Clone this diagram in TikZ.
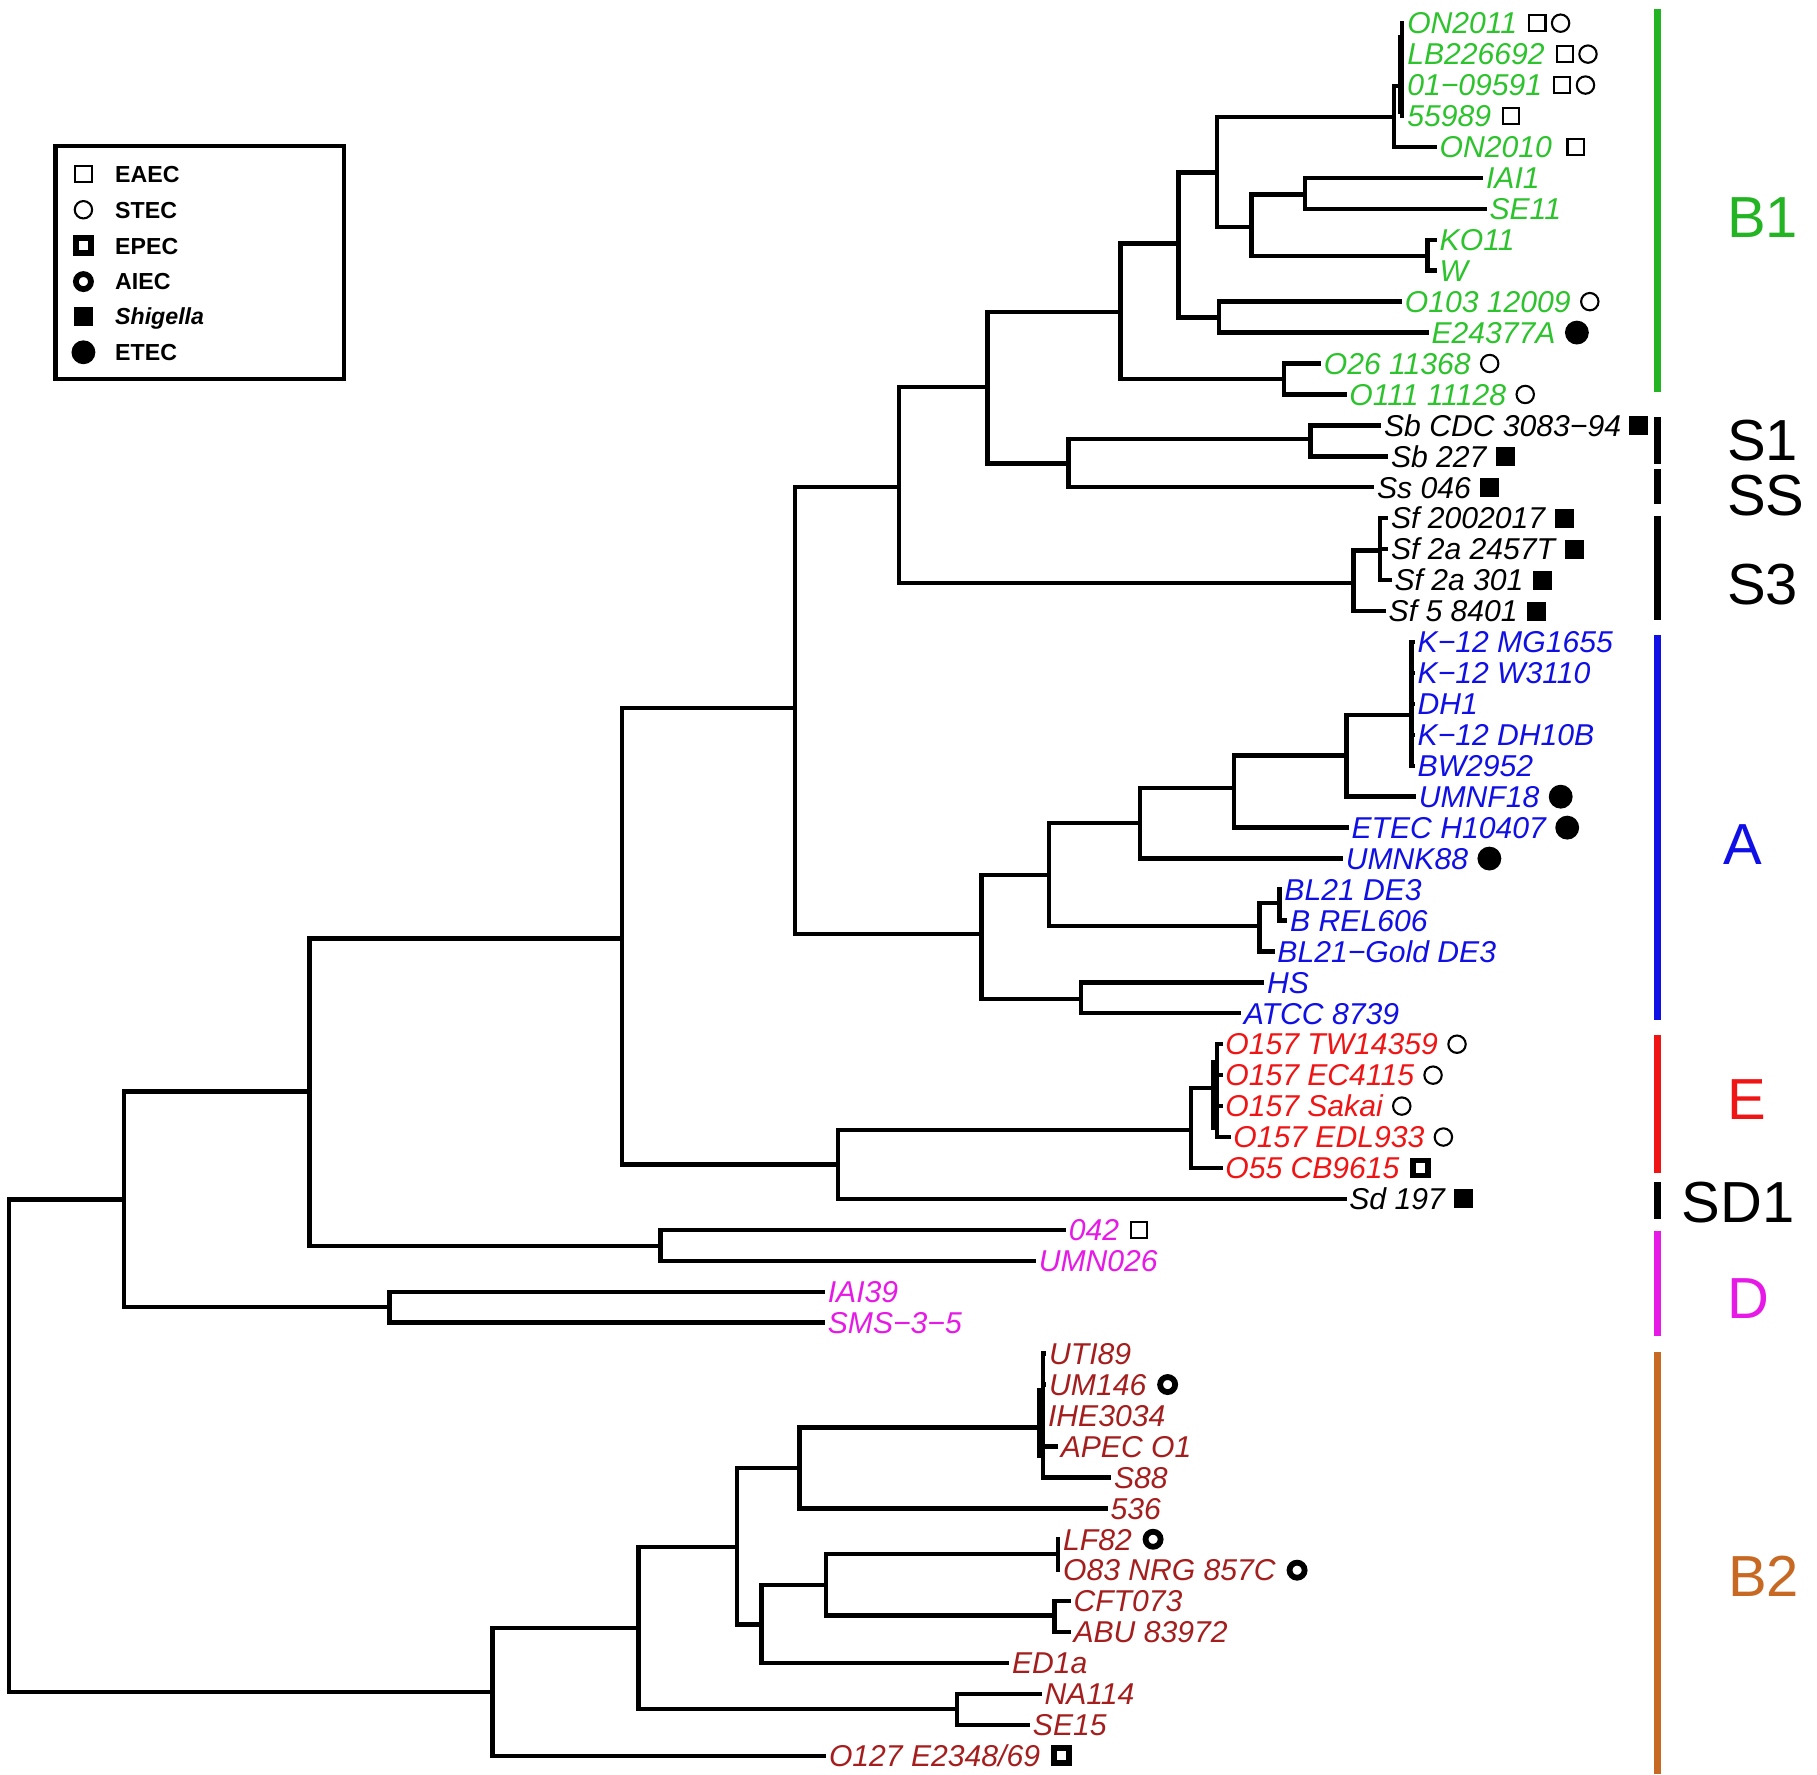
\documentclass[tikz,border=0pt]{standalone}
\usepackage{fontspec}
\setmainfont{Liberation Sans}
\usetikzlibrary{calc}
\definecolor{cB1}{RGB}{34,180,34}
\definecolor{cB1t}{RGB}{45,195,45}
\definecolor{cA}{RGB}{15,15,230}
\definecolor{cE}{RGB}{240,20,20}
\definecolor{cD}{RGB}{230,25,230}
\definecolor{cB2}{RGB}{165,30,30}
\definecolor{cB2bar}{RGB}{200,105,35}
\tikzset{
  br/.style={line width=1.9pt},
  thick cluster/.style={line width=2.8pt},
  cbar/.style={line width=3pt},
  leaf/.style={anchor=west, inner sep=0pt, inner xsep=1pt, font=\fontsize{13}{13}\selectfont\itshape, text height=9.3pt, text depth=0pt},
  big/.style={anchor=west, inner sep=0pt, font=\fontsize{25}{25}\selectfont, text height=18pt, text depth=0pt},
  eaec/.style={rectangle, draw, line width=0.9pt, minimum size=7pt, inner sep=0pt},
  stec/.style={circle, draw, line width=0.9pt, minimum size=7.5pt, inner sep=0pt},
  epec/.style={rectangle, draw, line width=2.5pt, minimum size=6.5pt, inner sep=0pt},
  aiec/.style={circle, draw, line width=2.5pt, minimum size=6.5pt, inner sep=0pt},
  shig/.style={rectangle, fill=black, minimum size=8.2pt, inner sep=0pt},
  etec/.style={circle, fill=black, minimum size=10.3pt, inner sep=0pt},
  legtxt/.style={anchor=west, inner sep=0pt, font=\fontsize{10}{10}\selectfont\bfseries, text height=7.2pt, text depth=0pt},
  legbox/.style={draw, line width=2pt, minimum width=124.5pt, minimum height=100.5pt, inner sep=0pt}
}
\begin{document}
\begin{tikzpicture}[x=0.5pt,y=-0.5pt]
\fill[white] (0,0) rectangle (1568,1531);
\useasboundingbox (0,0) rectangle (1568,1531);

% ---------- leaves ----------
\begin{scope}[every node/.append style={text=cB1t}]
\node[leaf] (l1) at (1212,20) {ON2011};
\node[leaf] (l2) at (1212,46.7) {LB226692};
\node[leaf] (l3) at (1212,73.4) {01−09591};
\node[leaf] (l4) at (1212,100.1) {55989};
\node[leaf] (l5) at (1240,126.8) {ON2010};
\node[leaf] (l6) at (1280,153.5) {IAI1};
\node[leaf] (l7) at (1283,180.2) {SE11};
\node[leaf] (l8) at (1240,206.9) {KO11};
\node[leaf] (l9) at (1240,233.6) {W};
\node[leaf] (l10) at (1210,260.3) {O103 12009};
\node[leaf] (l11) at (1233,287) {E24377A};
\node[leaf] (l12) at (1140,313.7) {O26 11368};
\node[leaf] (l13) at (1162,340.4) {O111 11128};
\end{scope}
\node[leaf] (l14) at (1192,367.1) {Sb CDC 3083−94};
\node[leaf] (l15) at (1198,393.8) {Sb 227};
\node[leaf] (l16) at (1186,420.5) {Ss 046};
\node[leaf] (l17) at (1198,447.2) {Sf 2002017};
\node[leaf] (l18) at (1198,473.9) {Sf 2a 2457T};
\node[leaf] (l19) at (1201,500.6) {Sf 2a 301};
\node[leaf] (l20) at (1196,527.3) {Sf 5 8401};
\begin{scope}[every node/.append style={text=cA}]
\node[leaf] (l21) at (1221,554) {K−12 MG1655};
\node[leaf] (l22) at (1221,580.7) {K−12 W3110};
\node[leaf] (l23) at (1221,607.4) {DH1};
\node[leaf] (l24) at (1221,634.1) {K−12 DH10B};
\node[leaf] (l25) at (1221,660.8) {BW2952};
\node[leaf] (l26) at (1222,687.5) {UMNF18};
\node[leaf] (l27) at (1164,714.2) {ETEC H10407};
\node[leaf] (l28) at (1159,740.9) {UMNK88};
\node[leaf] (l29) at (1106,767.6) {BL21 DE3};
\node[leaf] (l30) at (1111,794.3) {B REL606};
\node[leaf] (l31) at (1100,821) {BL21−Gold DE3};
\node[leaf] (l32) at (1091,847.7) {HS};
\node[leaf] (l33) at (1071,874.4) {ATCC 8739};
\end{scope}
\begin{scope}[every node/.append style={text=cE}]
\node[leaf] (l34) at (1055,901.1) {O157 TW14359};
\node[leaf] (l35) at (1055,927.8) {O157 EC4115};
\node[leaf] (l36) at (1055,954.5) {O157 Sakai};
\node[leaf] (l37) at (1062,981.2) {O157 EDL933};
\node[leaf] (l38) at (1055,1007.9) {O55 CB9615};
\end{scope}
\node[leaf] (l39) at (1162,1034.6) {Sd 197};
\begin{scope}[every node/.append style={text=cD}]
\node[leaf] (l40) at (920,1061.3) {042};
\node[leaf] (l41) at (894,1088) {UMN026};
\node[leaf] (l42) at (712,1114.7) {IAI39};
\node[leaf] (l43) at (712,1141.4) {SMS−3−5};
\end{scope}
\begin{scope}[every node/.append style={text=cB2}]
\node[leaf] (l44) at (903,1168.1) {UTI89};
\node[leaf] (l45) at (903,1194.8) {UM146};
\node[leaf] (l46) at (902,1221.5) {IHE3034};
\node[leaf] (l47) at (913,1248.2) {APEC O1};
\node[leaf] (l48) at (959,1274.9) {S88};
\node[leaf] (l49) at (956,1301.6) {536};
\node[leaf] (l50) at (915,1328.3) {LF82};
\node[leaf] (l51) at (915,1355) {O83 NRG 857C};
\node[leaf] (l52) at (924,1381.7) {CFT073};
\node[leaf] (l53) at (924,1408.4) {ABU 83972};
\node[leaf] (l54) at (871,1435.1) {ED1a};
\node[leaf] (l55) at (899,1461.8) {NA114};
\node[leaf] (l56) at (889,1488.5) {SE15};
\node[leaf] (l57) at (713,1515.2) {O127 E2348/69};
\end{scope}

% ---------- icons ----------
\node[eaec] (i1a) at ([xshift=7.5pt]l1.east) {};
\node[stec] (i1b) at ([xshift=17.5pt]l1.east) {};
\node[eaec] (i2a) at ([xshift=7.5pt]l2.east) {};
\node[stec] (i2b) at ([xshift=17.5pt]l2.east) {};
\node[eaec] (i3a) at ([xshift=7.5pt]l3.east) {};
\node[stec] (i3b) at ([xshift=17.5pt]l3.east) {};
\node[eaec] (i4a) at ([xshift=7.5pt]l4.east) {};
\node[eaec] (i5a) at ([xshift=9pt]l5.east) {};
\node[stec] (i10a) at ([xshift=7pt]l10.east) {};
\node[etec] (i11a) at ([xshift=8pt]l11.east) {};
\node[stec] (i12a) at ([xshift=7pt]l12.east) {};
\node[stec] (i13a) at ([xshift=7pt]l13.east) {};
\node[shig] (i14a) at ([xshift=6.5pt]l14.east) {};
\node[shig] (i15a) at ([xshift=7pt]l15.east) {};
\node[shig] (i16a) at ([xshift=7pt]l16.east) {};
\node[shig] (i17a) at ([xshift=7pt]l17.east) {};
\node[shig] (i18a) at ([xshift=7pt]l18.east) {};
\node[shig] (i19a) at ([xshift=7pt]l19.east) {};
\node[shig] (i20a) at ([xshift=7pt]l20.east) {};
\node[etec] (i26a) at ([xshift=8pt]l26.east) {};
\node[etec] (i27a) at ([xshift=8pt]l27.east) {};
\node[etec] (i28a) at ([xshift=8pt]l28.east) {};
\node[stec] (i34a) at ([xshift=7pt]l34.east) {};
\node[stec] (i35a) at ([xshift=7pt]l35.east) {};
\node[stec] (i36a) at ([xshift=7pt]l36.east) {};
\node[stec] (i37a) at ([xshift=7pt]l37.east) {};
\node[epec] (i38a) at ([xshift=8pt]l38.east) {};
\node[shig] (i39a) at ([xshift=7pt]l39.east) {};
\node[eaec] (i40a) at ([xshift=7.5pt]l40.east) {};
\node[aiec] (i45a) at ([xshift=8pt]l45.east) {};
\node[aiec] (i50a) at ([xshift=8pt]l50.east) {};
\node[aiec] (i51a) at ([xshift=8pt]l51.east) {};
\node[epec] (i57a) at ([xshift=8pt]l57.east) {};

% ---------- internal nodes ----------
\coordinate (R) at (8,1247);
\coordinate (N1) at (107,1035);
\coordinate (D2) at (336,1128);
\coordinate (N2) at (267,942);
\coordinate (D1) at (570,1075);
\coordinate (N3) at (537,810);
\coordinate (ESD) at (723,1005);
\coordinate (En) at (1028,975);
\coordinate (O157c) at (1050,939);
\coordinate (N4) at (686,611);
\coordinate (N5) at (776,420);
\coordinate (S3n) at (1168,503);
\coordinate (Sfc) at (1191,475);
\coordinate (N6) at (852,334);
\coordinate (SbSs) at (922,400);
\coordinate (Sbn) at (1131,379);
\coordinate (B1n) at (967,269);
\coordinate (O26n) at (1108,327);
\coordinate (B1a) at (1017,210);
\coordinate (O103n) at (1052,274);
\coordinate (B1b) at (1050,149);
\coordinate (ONn) at (1203,101);
\coordinate (ONa) at (1210,74);
\coordinate (B1c) at (1080,196);
\coordinate (IAIn) at (1126,168);
\coordinate (KOn) at (1232,221);
\coordinate (An) at (847,806);
\coordinate (HSn) at (933,862);
\coordinate (A1) at (905,755);
\coordinate (BLn) at (1087,799);
\coordinate (BLa) at (1104,779);
\coordinate (A2) at (984,710);
\coordinate (A3) at (1065,680);
\coordinate (A4) at (1162,652);
\coordinate (K12c) at (1218,617);
\coordinate (B2r) at (425,1460);
\coordinate (B2a) at (551,1405);
\coordinate (NAn) at (826,1475);
\coordinate (B2b) at (636,1335);
\coordinate (B2c) at (690,1267);
\coordinate (UTIc) at (900,1232);
\coordinate (B2d) at (657,1402);
\coordinate (B2e) at (713,1368);
\coordinate (LFn) at (913,1341);
\coordinate (CFTn) at (910,1394);

% ---------- branches ----------
\begin{scope}[br]
\draw (R) |- (N1); \draw (R) |- (B2r);
\draw (N1) |- (N2); \draw (N1) |- (D2);
\draw (D2) |- (l42.west); \draw (D2) |- (l43.west);
\draw (N2) |- (N3); \draw (N2) |- (D1);
\draw (D1) |- (l40.west); \draw (D1) |- (l41.west);
\draw (N3) |- (N4); \draw (N3) |- (ESD);
\draw (ESD) |- (En); \draw (ESD) |- (l39.west);
\draw (En) |- (O157c); \draw (En) |- (l38.west);
\foreach \k in {34,35,36,37} \draw (O157c) |- (l\k.west);
\draw (N4) |- (N5); \draw (N4) |- (An);
\draw (N5) |- (N6); \draw (N5) |- (S3n);
\draw (S3n) |- (Sfc); \draw (S3n) |- (l20.west);
\foreach \k in {17,18,19} \draw (Sfc) |- (l\k.west);
\draw (N6) |- (B1n); \draw (N6) |- (SbSs);
\draw (SbSs) |- (Sbn); \draw (SbSs) |- (l16.west);
\draw (Sbn) |- (l14.west); \draw (Sbn) |- (l15.west);
\draw (B1n) |- (B1a); \draw (B1n) |- (O26n);
\draw (O26n) |- (l12.west); \draw (O26n) |- (l13.west);
\draw (B1a) |- (B1b); \draw (B1a) |- (O103n);
\draw (O103n) |- (l10.west); \draw (O103n) |- (l11.west);
\draw (B1b) |- (ONn); \draw (B1b) |- (B1c);
\draw (ONn) |- (ONa); \draw (ONn) |- (l5.west);
\foreach \k in {1,2,3,4} \draw (ONa) |- (l\k.west);
\draw (B1c) |- (IAIn); \draw (B1c) |- (KOn);
\draw (IAIn) |- (l6.west); \draw (IAIn) |- (l7.west);
\draw (KOn) |- (l8.west); \draw (KOn) |- (l9.west);
\draw (An) |- (A1); \draw (An) |- (HSn);
\draw (HSn) |- (l32.west); \draw (HSn) |- (l33.west);
\draw (A1) |- (A2); \draw (A1) |- (BLn);
\draw (BLn) |- (BLa); \draw (BLn) |- (l31.west);
\draw (BLa) |- (l29.west); \draw (BLa) |- (l30.west);
\draw (A2) |- (A3); \draw (A2) |- (l28.west);
\draw (A3) |- (A4); \draw (A3) |- (l27.west);
\draw (A4) |- (K12c); \draw (A4) |- (l26.west);
\foreach \k in {21,22,23,24,25} \draw (K12c) |- (l\k.west);
\draw (B2r) |- (B2a); \draw (B2r) |- (l57.west);
\draw (B2a) |- (B2b); \draw (B2a) |- (NAn);
\draw (NAn) |- (l55.west); \draw (NAn) |- (l56.west);
\draw (B2b) |- (B2c); \draw (B2b) |- (B2d);
\draw (B2c) |- (UTIc); \draw (B2c) |- (l49.west);
\foreach \k in {44,45,46,47,48} \draw (UTIc) |- (l\k.west);
\draw (B2d) |- (B2e); \draw (B2d) |- (l54.west);
\draw (B2e) |- (LFn); \draw (B2e) |- (CFTn);
\draw (LFn) |- (l50.west); \draw (LFn) |- (l51.west);
\draw (CFTn) |- (l52.west); \draw (CFTn) |- (l53.west);
% thicker cores of the tight clusters
\draw[thick cluster] (1209,30) -- (1209,98);
\draw[thick cluster] (1048,915) -- (1048,975);
\draw[thick cluster] (898,1198) -- (898,1258);
\end{scope}

% ---------- group bars ----------
\draw[cbar, cB1] (1430,8) -- (1430,338);
\draw[cbar] (1430,360) -- (1430,400);
\draw[cbar] (1430,405) -- (1430,435);
\draw[cbar] (1430,445) -- (1430,535);
\draw[cbar, cA] (1430,548) -- (1430,880);
\draw[cbar, cE] (1430,893) -- (1430,1012);
\draw[cbar] (1430,1020) -- (1430,1052);
\draw[cbar, cD] (1430,1062) -- (1430,1153);
\draw[cbar, cB2bar] (1430,1167) -- (1430,1531);

\node[big, text=cB1] (gB1) at (1490,187) {B1};
\node[big] (gS1) at (1490,379) {S1};
\node[big] (gSS) at (1490,427) {SS};
\node[big] (gS3) at (1490,504) {S3};
\node[big, text=cA] (gA) at (1487,728) {A};
\node[big, text=cE] (gE) at (1490,948) {E};
\node[big] (gSD1) at (1451,1037) {SD1};
\node[big, text=cD] (gD) at (1490,1120) {D};
\node[big, text=cB2bar] (gB2) at (1491,1360) {B2};

% ---------- legend ----------
\node[legbox] (leg) at (172.5,226.5) {};
\node[eaec] (k1) at (72,150) {};
\node[legtxt] (t1) at (99,150) {EAEC};
\node[stec] (k2) at (72,181) {};
\node[legtxt] (t2) at (99,181) {STEC};
\node[epec] (k3) at (72,212) {};
\node[legtxt] (t3) at (99,212) {EPEC};
\node[aiec] (k4) at (72,243) {};
\node[legtxt] (t4) at (99,243) {AIEC};
\node[shig] (k5) at (72,273) {};
\node[legtxt] (t5) at (99,273) {\itshape Shigella};
\node[etec] (k6) at (72,304) {};
\node[legtxt] (t6) at (99,304) {ETEC};
\end{tikzpicture}
\end{document}
